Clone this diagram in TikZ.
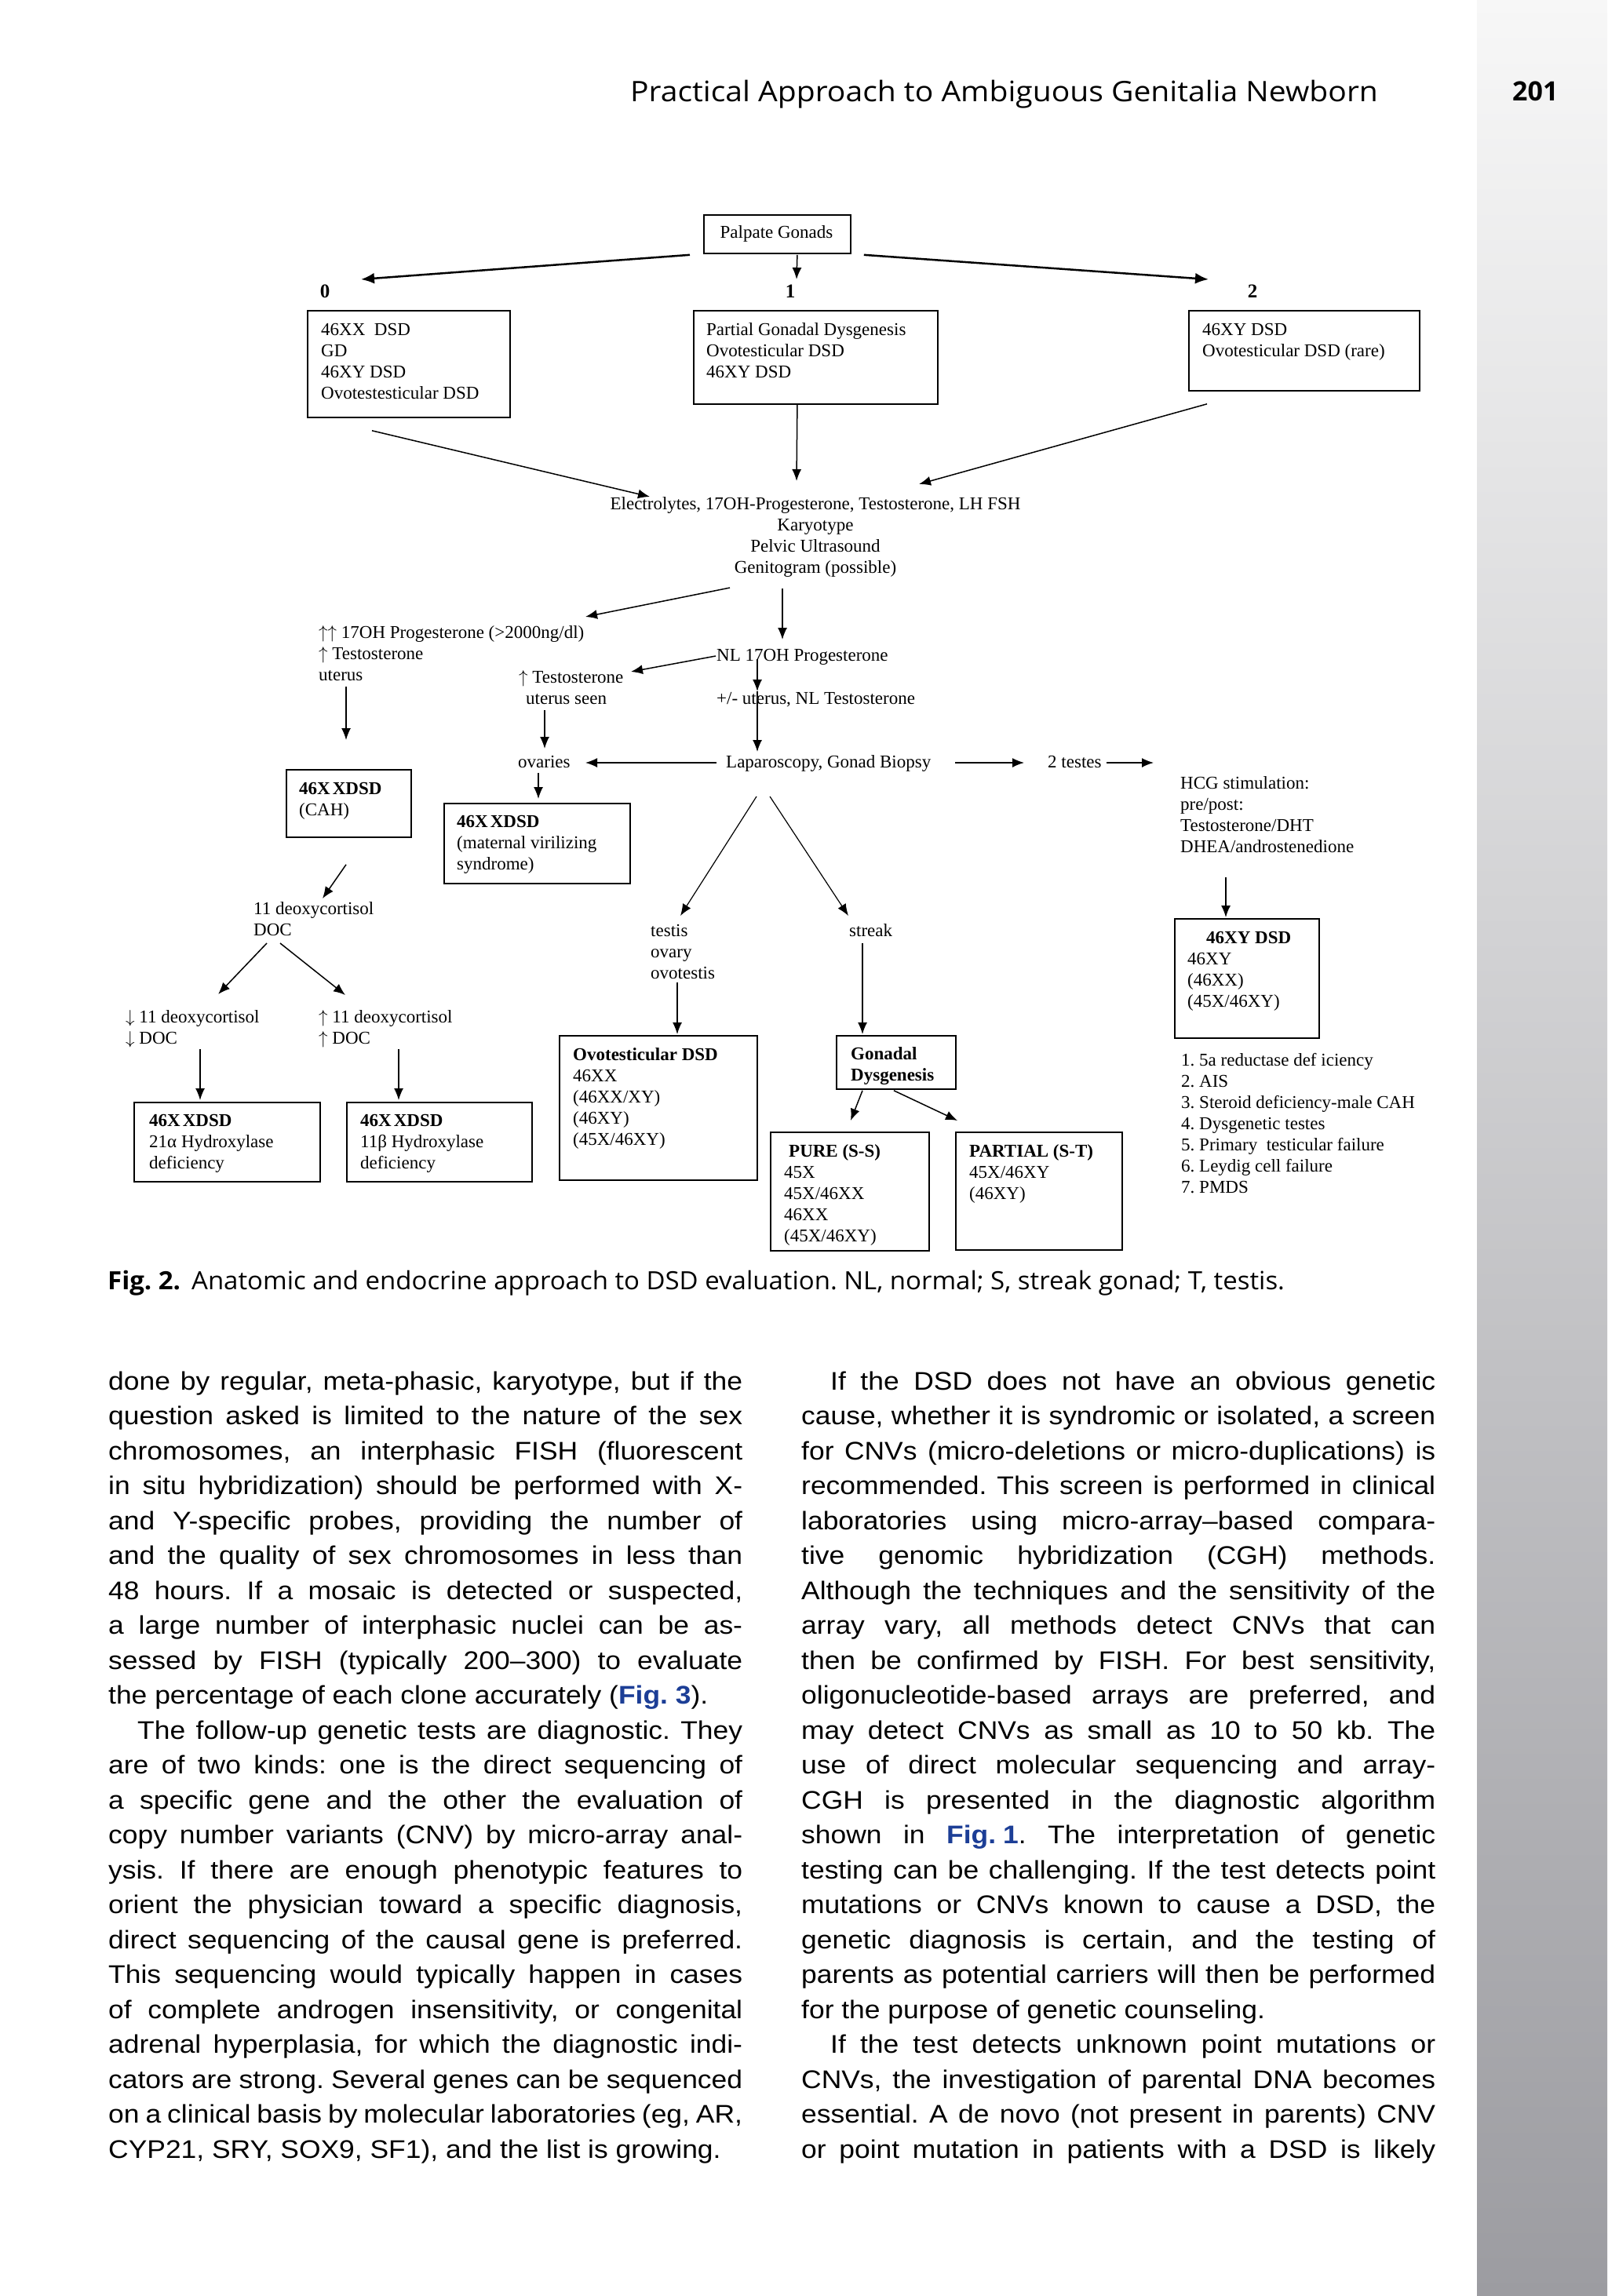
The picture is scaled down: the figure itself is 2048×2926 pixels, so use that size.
\RequirePackage{fix-cm}
\documentclass[tikz,border=0pt]{standalone}
\usepackage{fontspec}
\setmainfont{Liberation Serif}
\newfontfamily\bodyfont{Liberation Sans}[FakeStretch=1.09]
\newfontfamily\headfont{Open Sans}[FakeStretch=1.085]
\newfontfamily\capfont{Open Sans}[FakeStretch=1.03]
\newfontfamily\pnfont{Open Sans}
\usetikzlibrary{arrows.meta,calc}
\frenchspacing
\definecolor{figblue}{RGB}{28,62,150}
\definecolor{bartop}{RGB}{247,247,247}
\definecolor{barbot}{RGB}{156,156,161}
\newcommand{\Lft}[1]{\vtop{\baselineskip=27pt\lineskiplimit=-\maxdimen\lineskip=0pt\halign{##\hfil\cr#1\crcr}}}
\newcommand{\Ctr}[1]{\vtop{\baselineskip=27pt\lineskiplimit=-\maxdimen\lineskip=0pt\halign{\hfil##\hfil\cr#1\crcr}}}
\newcommand{\J}[1]{\makebox[808pt][s]{#1}}
\newcommand{\E}[1]{\makebox[808pt][l]{#1}}
\newcommand{\XX}{46X\kern3pt XDSD}
\newcommand{\UA}{$\uparrow$}
\newcommand{\DA}{$\downarrow$}
\tikzset{
  dtxt/.style={inner sep=0pt, anchor=base west, font=\fontsize{23}{27}\selectfont},
  ctxt/.style={inner sep=0pt, anchor=base, font=\fontsize{23}{27}\selectfont},
  num/.style={inner sep=0pt, anchor=base, font=\bfseries\fontsize{25}{27}\selectfont},
  frm/.style={draw, line width=1.8pt, inner sep=0pt, anchor=north west},
  ar/.style={line width=1.5pt, -{Latex[length=15pt,width=12pt]}},
  arthk/.style={line width=2.5pt, -{Latex[length=17pt,width=14pt]}},
  arthin/.style={line width=1.2pt, -{Latex[length=15pt,width=12pt]}},
  bline/.style={inner sep=0pt, anchor=base west, font=\bodyfont\fontsize{32.5}{44.5}\selectfont},
}
\begin{document}
\begin{tikzpicture}[x=1pt,y=-1pt]
\useasboundingbox (0,0) rectangle (2048,2926);
\fill[white] (0,0) rectangle (2048,2926);
\shade[top color=bartop, bottom color=barbot] (1882,0) rectangle (2048,2926);

% header
\node[inner sep=0pt, anchor=base west, font=\headfont\fontsize{36}{40}\selectfont] (head) at (803,129) {Practical Approach to Ambiguous Genitalia Newborn};
\node[inner sep=0pt, anchor=base west, font=\pnfont\bfseries\fontsize{34}{40}\selectfont] (pnum) at (1927,128) {201};

% ---- diagram frames
\node[frm, minimum width=187pt, minimum height=49pt] (pg) at (896,273) {};
\node[frm, minimum width=258pt, minimum height=136pt] (b0) at (391,395) {};
\node[frm, minimum width=311pt, minimum height=119pt] (b1) at (883,395) {};
\node[frm, minimum width=294pt, minimum height=102pt] (b2) at (1514,395) {};
\node[frm, minimum width=159pt, minimum height=86pt] (cah) at (364,980) {};
\node[frm, minimum width=237pt, minimum height=102pt] (mat) at (565,1023) {};
\node[frm, minimum width=184pt, minimum height=152pt] (xy) at (1496,1170) {};
\node[frm, minimum width=237pt, minimum height=101pt] (h21) at (170,1404) {};
\node[frm, minimum width=236pt, minimum height=101pt] (h11) at (441,1404) {};
\node[frm, minimum width=252pt, minimum height=184pt] (ovo) at (712,1319) {};
\node[frm, minimum width=152pt, minimum height=68pt] (gd) at (1065,1319) {};
\node[frm, minimum width=202pt, minimum height=151pt] (pure) at (981,1442) {};
\node[frm, minimum width=212pt, minimum height=150pt] (part) at (1217,1442) {};

% ---- diagram texts
\node[ctxt] (tpg) at (989.5,303) {Palpate Gonads};
\node[num] (n0) at (414,379) {0};
\node[num] (n1) at (1007,379) {1};
\node[num] (n2) at (1596,379) {2};
\node[dtxt] (t0) at (409,427) {\Lft{46XX\ \ DSD\cr GD\cr 46XY DSD\cr Ovotestesticular DSD}};
\node[dtxt] (t1) at (900,427) {\Lft{Partial Gonadal Dysgenesis\cr Ovotesticular DSD\cr 46XY DSD}};
\node[dtxt] (t2) at (1532,427) {\Lft{46XY DSD\cr Ovotesticular DSD (rare)}};
\node[ctxt] (tmid) at (1039,649) {\Ctr{Electrolytes, 17OH-Progesterone, Testosterone, LH FSH\cr Karyotype\cr Pelvic Ultrasound\cr Genitogram (possible)}};
\node[dtxt] (tcah1) at (406,813) {\Lft{\UA\UA\ 17OH Progesterone (>2000ng/dl)\cr \UA\ Testosterone\cr uterus}};
\node[dtxt] (tnl) at (913,842) {NL 17OH Progesterone};
\node[dtxt] (tts) at (661,870) {\UA\ Testosterone};
\node[dtxt] (tus) at (670,897) {uterus seen};
\node[dtxt] (tpm) at (913,897) {+/- uterus, NL Testosterone};
\node[dtxt] (tov) at (660,978) {ovaries};
\node[dtxt] (tlap) at (925,978) {Laparoscopy, Gonad Biopsy};
\node[dtxt] (t2t) at (1335,978) {2 testes};
\node[dtxt] (thcg) at (1504,1005) {\Lft{HCG stimulation:\cr pre/post:\cr Testosterone/DHT\cr DHEA/androstenedione}};
\node[dtxt] (tcah) at (381,1012) {\Lft{\bfseries\XX\cr (CAH)}};
\node[dtxt] (tmat) at (582,1054) {\Lft{\bfseries\XX\cr (maternal virilizing\cr syndrome)}};
\node[dtxt] (tdeo) at (323,1165) {\Lft{11 deoxycortisol\cr DOC}};
\node[dtxt] (ttes) at (829,1193) {\Lft{testis\cr ovary\cr ovotestis}};
\node[dtxt] (tstr) at (1082,1193) {streak};
\node[dtxt] (txy) at (1513,1202) {\Lft{\hskip24pt\bfseries 46XY DSD\cr 46XY\cr (46XX)\cr (45X/46XY)}};
\node[dtxt] (tdn) at (160,1303) {\Lft{\DA\ 11 deoxycortisol\cr \DA\ DOC}};
\node[dtxt] (tup) at (406,1303) {\Lft{\UA\ 11 deoxycortisol\cr \UA\ DOC}};
\node[dtxt] (th21) at (190,1435) {\Lft{\bfseries\XX\cr 21α Hydroxylase\cr deficiency}};
\node[dtxt] (th11) at (459,1435) {\Lft{\bfseries\XX\cr 11β Hydroxylase\cr deficiency}};
\node[dtxt] (tovo) at (730,1351) {\Lft{\bfseries Ovotesticular DSD\cr 46XX\cr (46XX/XY)\cr (46XY)\cr (45X/46XY)}};
\node[dtxt] (tgd) at (1084,1350) {\Lft{\bfseries Gonadal\cr \bfseries Dysgenesis}};
\node[dtxt] (tpure) at (999,1474) {\Lft{\hskip6pt\bfseries PURE (S-S)\cr 45X\cr 45X/46XX\cr 46XX\cr (45X/46XY)}};
\node[dtxt] (tpart) at (1235,1474) {\Lft{\bfseries PARTIAL (S-T)\cr 45X/46XY\cr (46XY)}};
\node[dtxt] (tlist) at (1505,1358) {\Lft{1. 5a reductase def iciency\cr 2. AIS\cr 3. Steroid deficiency-male CAH\cr 4. Dysgenetic testes\cr 5. Primary\ \ testicular failure\cr 6. Leydig cell failure\cr 7. PMDS}};

% ---- connectors
\draw[arthk] ($(pg.south west)+(-17,1)$) -- ($(n0.base)+(46,-23)$);
\draw[ar] ($(pg.south)+(25.5,1)$) -- ($(n1.base)+(8,-23)$);
\draw[arthk] ($(pg.south east)+(16,1)$) -- ($(n2.base)+(-56,-23)$);
\draw[ar] ($(b0.south west)+(83,16)$) -- ($(tmid.base)+(-211,-16)$);
\draw[ar] ($(b1.south)+(-23.5,0)$) -- ($(tmid.base)+(-24,-36)$);
\draw[ar] ($(b2.south west)+(24,16)$) -- ($(tmid.base)+(132,-32)$);
\draw[ar] ($(tmid.base)+(-109,100)$) -- ($(tcah1.base west)+(340,-27)$);
\draw[ar] ($(tmid.base)+(-42,101)$) -- ($(tnl.base west)+(84,-27)$);
\draw[ar] ($(tcah1.base west)+(35,62)$) -- ($(cah.north west)+(77,-37)$);
\draw[ar] ($(tnl.base west)+(-1,-6)$) -- ($(tts.base west)+(143,-14)$);
\draw[ar] ($(tus.base west)+(24,8)$) -- ($(tov.base west)+(34,-24)$);
\draw[ar] ($(tnl.base west)+(52,-2)$) -- ($(tpm.base west)+(52,-16)$);
\draw[ar] ($(tpm.base west)+(52,-16)$) -- ($(tlap.base west)+(40,-20)$);
\draw[ar] ($(tlap.base west)+(-12,-6)$) -- ($(tov.base west)+(86,-6)$);
\draw[ar] ($(tlap.base west)+(292,-6)$) -- ($(t2t.base west)+(-30,-6)$);
\draw[ar] ($(t2t.base west)+(75,-6)$) -- ($(thcg.base west)+(-34,-33)$);
\draw[ar] ($(thcg.base west)+(58,113)$) -- ($(xy.north west)+(66,-1)$);
\draw[ar] ($(tov.base west)+(26,7)$) -- ($(mat.north west)+(121,-5)$);
\draw[ar] ($(cah.south west)+(77,34)$) -- ($(tdeo.base west)+(88,-20)$);
\draw[ar] ($(tdeo.base west)+(17,37)$) -- ($(tdn.base west)+(118,-36)$);
\draw[ar] ($(tdeo.base west)+(34,37)$) -- ($(tup.base west)+(34,-35)$);
\draw[ar] ($(tdn.base west)+(95,34)$) -- ($(h21.north west)+(85,-2)$);
\draw[ar] ($(tup.base west)+(102,34)$) -- ($(h11.north west)+(67,-2)$);
\draw[arthin] ($(tlap.base west)+(39,37)$) -- ($(ttes.base west)+(38,-26)$);
\draw[arthin] ($(tlap.base west)+(56,37)$) -- ($(tstr.base west)+(-1,-26)$);
\draw[ar] ($(tstr.base west)+(17,9)$) -- ($(gd.north west)+(34,-1)$);
\draw[ar] ($(ttes.base west)+(34,59)$) -- ($(ovo.north west)+(151,-1)$);
\draw[ar] ($(gd.south west)+(34,1)$) -- ($(pure.north west)+(103,-14)$);
\draw[ar] ($(gd.south west)+(74,1)$) -- ($(part.north west)+(3,-14)$);

% caption
\node[inner sep=0pt, anchor=base west, font=\capfont\fontsize{32}{36}\selectfont] (cap) at (137,1643) {\textbf{Fig. 2.}\hspace{14pt}Anatomic and endocrine approach to DSD evaluation. NL, normal; S, streak gonad; T, testis.};

% body text, left column
\foreach \t [count=\i from 0] in {
\J{done by regular, meta-phasic, karyotype, but if the},
\J{question asked is limited to the nature of the sex},
\J{chromosomes, an interphasic FISH (fluorescent},
\J{in situ hybridization) should be performed with X-},
\J{and Y-specific probes, providing the number of},
\J{and the quality of sex chromosomes in less than},
\J{48 hours. If a mosaic is detected or suspected,},
\J{a large number of interphasic nuclei can be as-},
\J{sessed by FISH (typically 200–300) to evaluate},
\E{the percentage of each clone accurately ({\bfseries\color{figblue}Fig. 3}).},
\J{\hspace*{37pt}The follow-up genetic tests are diagnostic. They},
\J{are of two kinds: one is the direct sequencing of},
\J{a specific gene and the other the evaluation of},
\J{copy number variants (CNV) by micro-array anal-},
\J{ysis. If there are enough phenotypic features to},
\J{orient the physician toward a specific diagnosis,},
\J{direct sequencing of the causal gene is preferred.},
\J{This sequencing would typically happen in cases},
\J{of complete androgen insensitivity, or congenital},
\J{adrenal hyperplasia, for which the diagnostic indi-},
\J{cators are strong. Several genes can be sequenced},
\J{on a clinical basis by molecular laboratories (eg, AR,},
\E{CYP21, SRY, SOX9, SF1), and the list is growing.}}
{\node[bline] (L\i) at (138,{1771+44.5*\i}) {\t};}

% body text, right column
\foreach \t [count=\i from 0] in {
\J{\hspace*{37pt}If the DSD does not have an obvious genetic},
\J{cause, whether it is syndromic or isolated, a screen},
\J{for CNVs (micro-deletions or micro-duplications) is},
\J{recommended. This screen is performed in clinical},
\J{laboratories using micro-array–based compara-},
\J{tive genomic hybridization (CGH) methods.},
\J{Although the techniques and the sensitivity of the},
\J{array vary, all methods detect CNVs that can},
\J{then be confirmed by FISH. For best sensitivity,},
\J{oligonucleotide-based arrays are preferred, and},
\J{may detect CNVs as small as 10 to 50 kb. The},
\J{use of direct molecular sequencing and array-},
\J{CGH is presented in the diagnostic algorithm},
\J{shown in {\bfseries\color{figblue}Fig.\kern9pt 1}. The interpretation of genetic},
\J{testing can be challenging. If the test detects point},
\J{mutations or CNVs known to cause a DSD, the},
\J{genetic diagnosis is certain, and the testing of},
\J{parents as potential carriers will then be performed},
\E{for the purpose of genetic counseling.},
\J{\hspace*{37pt}If the test detects unknown point mutations or},
\J{CNVs, the investigation of parental DNA becomes},
\J{essential. A de novo (not present in parents) CNV},
\J{or point mutation in patients with a DSD is likely}}
{\node[bline] (R\i) at (1021,{1771+44.5*\i}) {\t};}
\end{tikzpicture}
\end{document}
